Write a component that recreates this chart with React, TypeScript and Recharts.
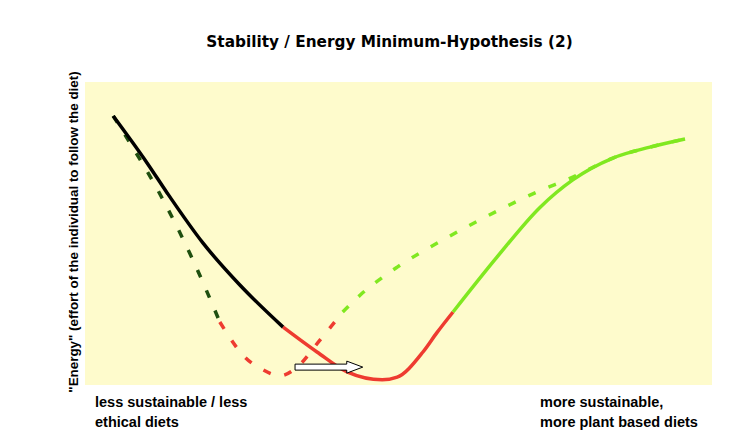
import { LineChart, Line, XAxis, YAxis, CartesianGrid, ReferenceLine } from 'recharts'

// x: 0 = less sustainable, 100 = more plant based; y: "energy"
const solidBlack = [
  { x: 4.5, y: 88.8 },
  { x: 9.9, y: 73.3 },
  { x: 13.1, y: 63.4 },
  { x: 18.8, y: 46.9 },
  { x: 24.7, y: 33.0 },
  { x: 31.6, y: 19.1 },
]
const solidRed = [
  { x: 31.6, y: 19.1 },
  { x: 37.0, y: 10.9 },
  { x: 41.8, y: 4.3 },
  { x: 47.4, y: 1.7 },
  { x: 49.8, y: 2.6 },
  { x: 53.9, y: 10.9 },
  { x: 56.1, y: 17.2 },
  { x: 58.7, y: 24.1 },
]
const solidGreen = [
  { x: 58.7, y: 24.1 },
  { x: 65.7, y: 42.2 },
  { x: 72.6, y: 58.7 },
  { x: 77.8, y: 67.7 },
  { x: 84.2, y: 74.9 },
  { x: 90.1, y: 78.5 },
  { x: 95.7, y: 81.2 },
]
const dashedDark = [
  { x: 4.5, y: 88.8 },
  { x: 6.7, y: 81.5 },
  { x: 12.3, y: 61.7 },
  { x: 17.2, y: 41.3 },
  { x: 21.5, y: 20.8 },
]
const dashedRed = [
  { x: 21.5, y: 20.8 },
  { x: 25.5, y: 9.2 },
  { x: 28.4, y: 5.0 },
  { x: 31.1, y: 3.0 },
  { x: 33.5, y: 5.3 },
  { x: 37.5, y: 14.9 },
  { x: 41.1, y: 24.1 },
]
const dashedGreen = [
  { x: 41.1, y: 24.1 },
  { x: 43.9, y: 29.7 },
  { x: 49.8, y: 38.9 },
  { x: 57.1, y: 47.9 },
  { x: 63.0, y: 54.5 },
  { x: 72.1, y: 63.7 },
  { x: 77.8, y: 68.6 },
  { x: 84.2, y: 74.9 },
  { x: 90.1, y: 78.5 },
  { x: 95.7, y: 81.2 },
]
const arrowFrom = { x: 33.5, y: 5.9 }
const arrowTo = { x: 44.3, y: 5.9 }

const title = 'Stability / Energy Minimum-Hypothesis (2)'
const yLabel = '"Energy" (effort of the individual to follow the diet)'
const leftLabel = ['less sustainable / less', 'ethical diets']
const rightLabel = ['more sustainable,', 'more plant based diets']

const RED = '#ee3b30'
const GREEN = '#80e820'
const DARK = '#1f4f0f'

const Arrow = (props: any) => {
  const { x1, y1, x2 } = props
  const head = 16
  const bx = x2 - head
  const pts = [
    [x1, y1 - 3],
    [bx, y1 - 3],
    [bx, y1 - 6],
    [x2, y1],
    [bx, y1 + 6],
    [bx, y1 + 3],
    [x1, y1 + 3],
  ]
  return <polygon points={pts.map((p) => p.join(',')).join(' ')} fill="#fff" stroke="#000" strokeWidth={1} />
}

const labelFont = { fontFamily: '"Liberation Sans", Arial, sans-serif', fontWeight: 700, fontSize: 14.5, color: '#000' }

export default function App() {
  return (
    <div style={{ position: 'relative', width: 747, height: 440 }}>
      <div
        style={{
          position: 'absolute',
          top: 25,
          left: 0,
          width: 763,
          textAlign: 'center',
          fontFamily: '"DejaVu Sans", Verdana, sans-serif',
          fontWeight: 700,
          fontSize: 15.3,
          lineHeight: '18px',
        }}
      >
        {title}
      </div>
      <LineChart width={747} height={440} margin={{ top: 74, right: 43, bottom: 63, left: 77 }}>
        <CartesianGrid fill="#fefbcc" horizontal={false} vertical={false} />
        <XAxis
          type="number"
          dataKey="x"
          domain={[0, 100]}
          tick={false}
          tickLine={false}
          height={0}
          axisLine={{ stroke: '#222', strokeWidth: 1.5 }}
        />
        <YAxis
          type="number"
          dataKey="y"
          domain={[0, 100]}
          tick={false}
          tickLine={false}
          width={0}
          axisLine={{ stroke: '#7fb07f', strokeDasharray: '3 2' }}
        />
        <Line data={dashedDark} dataKey="y" type="monotone" stroke={DARK} strokeWidth={3.5} strokeDasharray="8 14" dot={false} isAnimationActive={false} />
        <Line data={dashedRed} dataKey="y" type="monotone" stroke={RED} strokeWidth={3.5} strokeDasharray="8 14" dot={false} isAnimationActive={false} />
        <Line data={dashedGreen} dataKey="y" type="monotone" stroke={GREEN} strokeWidth={3.5} strokeDasharray="8 14" dot={false} isAnimationActive={false} />
        <Line data={solidBlack} dataKey="y" type="monotone" stroke="#000" strokeWidth={3.5} dot={false} isAnimationActive={false} />
        <Line data={solidRed} dataKey="y" type="monotone" stroke={RED} strokeWidth={3.5} dot={false} isAnimationActive={false} />
        <Line data={solidGreen} dataKey="y" type="monotone" stroke={GREEN} strokeWidth={3.5} dot={false} isAnimationActive={false} />
        <ReferenceLine segment={[arrowFrom, arrowTo]} shape={Arrow} />
      </LineChart>
      <div
        style={{
          ...labelFont,
          fontSize: 13.4,
          position: 'absolute',
          left: 65,
          top: 224,
          whiteSpace: 'nowrap',
          transform: 'translate(-50%, -50%) rotate(-90deg)',
        }}
      >
        {yLabel}
      </div>
      <div style={{ ...labelFont, position: 'absolute', left: 87, top: 384, lineHeight: '20px' }}>
        {leftLabel.map((t) => (
          <div key={t}>{t}</div>
        ))}
      </div>
      <div style={{ ...labelFont, position: 'absolute', left: 532, top: 384, lineHeight: '20px' }}>
        {rightLabel.map((t) => (
          <div key={t}>{t}</div>
        ))}
      </div>
    </div>
  )
}
